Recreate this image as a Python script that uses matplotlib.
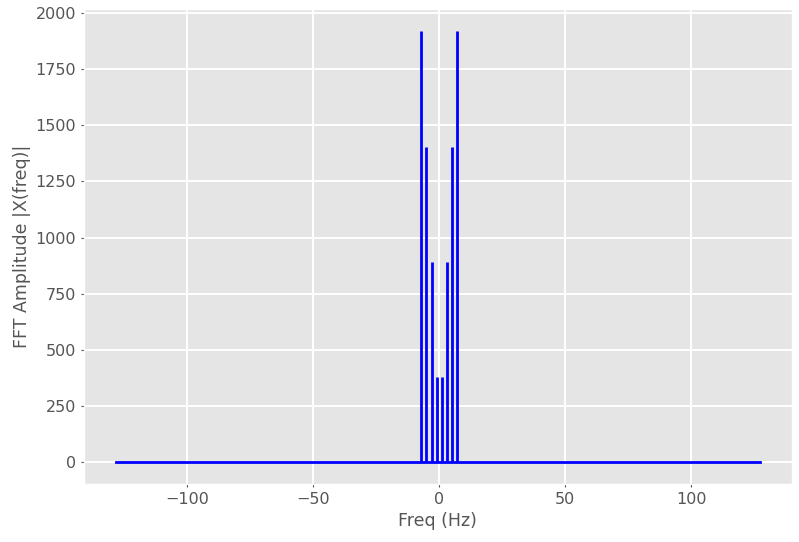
import numpy as np
import matplotlib.pyplot as plt

plt.style.use('ggplot')

# frequency axis, sampling rate 256
freq = np.arange(-128, 128)
peak_freqs = [-7, -5, -3, -1, 1, 3, 5, 7]
peak_amps = [1920, 1405, 893, 382, 382, 893, 1405, 1920]

amp = np.zeros(len(freq))
for f, a in zip(peak_freqs, peak_amps):
    amp[freq == f] = a

fig = plt.figure(figsize=(7.99, 5.42), dpi=100)
plt.subplots_adjust(left=0.105, right=0.991, top=0.983, bottom=0.107)
markerline, stemlines, baseline = plt.stem(freq, amp, 'b', markerfmt=' ', basefmt='-b')
plt.setp(stemlines, linewidth=2)
plt.setp(baseline, linewidth=2)
plt.grid(True, color='white', linewidth=1.4)
plt.xlabel('Freq (Hz)', fontsize=12.5, color='#555555')
plt.ylabel('FFT Amplitude |X(freq)|', fontsize=12.5, color='#555555', labelpad=3)
plt.tick_params(labelsize=11.5, length=2, colors='#555555')
plt.savefig('out.png')
